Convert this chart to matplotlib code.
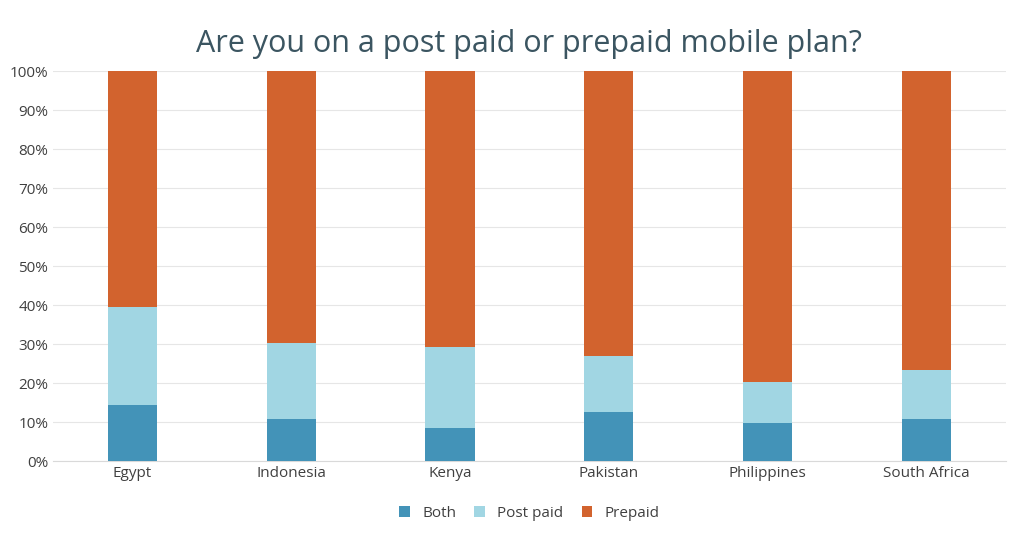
import matplotlib.pyplot as plt
from matplotlib.ticker import PercentFormatter

countries = ['Egypt', 'Indonesia', 'Kenya', 'Pakistan', 'Philippines', 'South Africa']
both = [14.4, 10.8, 8.5, 12.6, 9.7, 10.8]
post_paid = [25.1, 19.5, 20.7, 14.3, 10.6, 12.5]
prepaid = [100 - b - p for b, p in zip(both, post_paid)]

plt.rcParams['font.family'] = ['Open Sans', 'DejaVu Sans']
fig, ax = plt.subplots(figsize=(10.24, 5.57), dpi=100)
fig.subplots_adjust(left=0.052, right=0.982, top=0.872, bottom=0.172)

x = range(len(countries))
w = 0.31
ax.bar(x, both, w, color='#4393b8', label='Both', zorder=3)
ax.bar(x, post_paid, w, bottom=both, color='#a1d6e3', label='Post paid', zorder=3)
bottoms = [b + p for b, p in zip(both, post_paid)]
ax.bar(x, prepaid, w, bottom=bottoms, color='#d2632e', label='Prepaid', zorder=3)

ax.set_ylim(0, 100)
ax.set_xlim(-0.5, len(countries) - 0.5)
ax.set_yticks(range(0, 101, 10))
ax.yaxis.set_major_formatter(PercentFormatter(decimals=0))
ax.set_xticks(list(x))
ax.set_xticklabels(countries)
ax.tick_params(colors='#404040', labelsize=11, length=0)
ax.grid(axis='y', color='#e6e6e6', linewidth=0.8, zorder=0)
for s in ['top', 'right', 'left']:
    ax.spines[s].set_visible(False)
ax.spines['bottom'].set_color('#d9d9d9')

ax.set_title('Are you on a post paid or prepaid mobile plan?', fontsize=22,
             color='#3b5561', pad=14)
ax.legend(loc='upper center', bbox_to_anchor=(0.5, -0.08), ncol=3, frameon=False,
          fontsize=11, handlelength=0.7, handleheight=0.7, columnspacing=1.2,
          labelcolor='#404040')

fig.savefig('out.png')
